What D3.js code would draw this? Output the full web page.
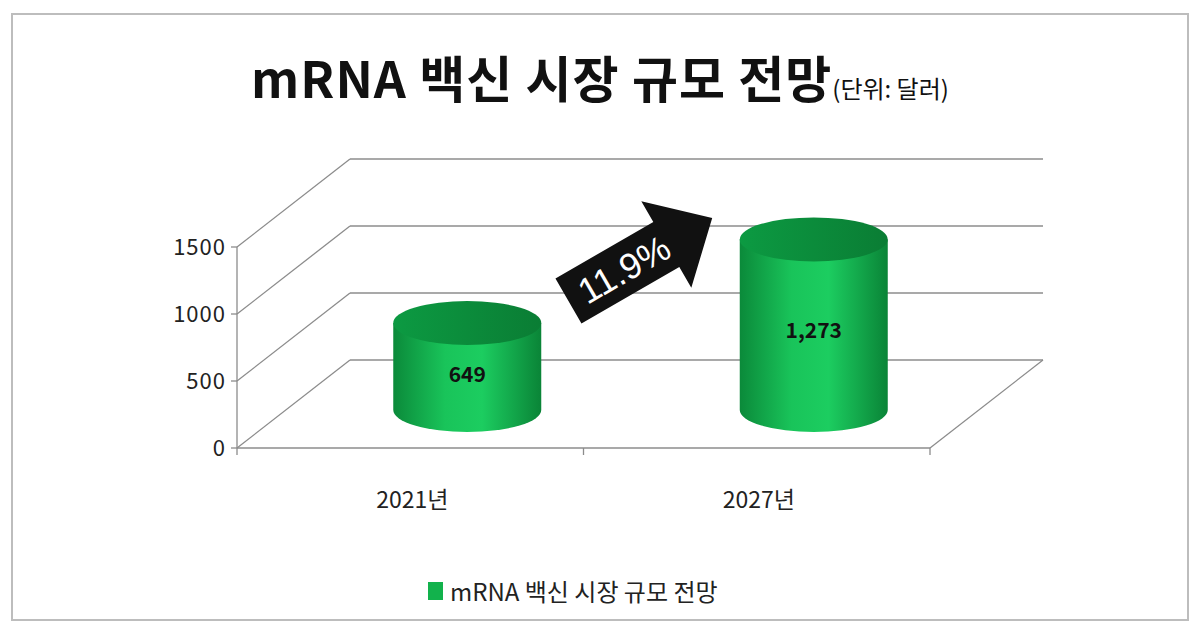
<!DOCTYPE html>
<html><head><meta charset="utf-8">
<script src="https://cdn.jsdelivr.net/npm/d3@7"></script>
<style>body{margin:0;background:#fff}svg{display:block}</style>
</head><body>
<script>
const categories = ["2021년", "2027년"];
const values = [649, 1273];
const valueLabels = ["649", "1,273"];
const yTicks = [0, 500, 1000, 1500];
const growthLabel = "11.9%";
const seriesName = "mRNA 백신 시장 규모 전망";

const W = 1200, H = 630;
const svg = d3.select("body").append("svg").attr("width", W).attr("height", H);
const font = "'Noto Sans CJK KR','Noto Sans',sans-serif";

svg.append("rect").attr("x", 12).attr("y", 14).attr("width", 1176).attr("height", 606)
  .attr("fill", "#fff").attr("stroke", "#bdbdbd").attr("stroke-width", 2);

const t = svg.append("text").attr("x", 600).attr("y", 98).attr("text-anchor", "middle")
  .attr("font-family", font).attr("fill", "#111");
t.append("tspan").attr("font-size", 50).attr("font-weight", 700).attr("letter-spacing", 1).text("mRNA 백신 시장 규모 전망");
t.append("tspan").attr("font-size", 24).text("(단위: 달러)");

const x0 = 237, x1 = 930, dx = 113, dy = -88;
const y = d3.scaleLinear().domain([0, 1500]).range([448, 247]);
const xb = d3.scaleBand().domain(categories).range([x0, x1]);

const grid = svg.append("g").attr("stroke", "#8c8c8c").attr("stroke-width", 1.3).attr("fill", "none");
yTicks.forEach(v => {
  const yy = y(v) + dy;
  grid.append("line").attr("x1", x0 + dx).attr("x2", x1 + dx).attr("y1", yy).attr("y2", yy);
  grid.append("line").attr("x1", x0).attr("y1", y(v)).attr("x2", x0 + dx).attr("y2", yy);
});
grid.append("line").attr("x1", x1).attr("y1", y(0)).attr("x2", x1 + dx).attr("y2", y(0) + dy);
grid.append("line").attr("x1", x0).attr("y1", y(0)).attr("x2", x1).attr("y2", y(0));
grid.append("line").attr("x1", x0).attr("y1", y(0)).attr("x2", x0).attr("y2", y(1500));
[x0, (x0 + x1) / 2, x1].forEach(xx => grid.append("line").attr("x1", xx).attr("x2", xx).attr("y1", y(0)).attr("y2", y(0) + 7));
yTicks.forEach(v => grid.append("line").attr("x1", x0 - 6).attr("x2", x0).attr("y1", y(v)).attr("y2", y(v)));

svg.append("g").selectAll("text").data(yTicks).join("text")
  .attr("x", 226).attr("y", d => y(d) + 8).attr("text-anchor", "end")
  .attr("font-family", font).attr("font-size", 22).attr("fill", "#222").attr("letter-spacing", 1).text(d => d);

svg.append("g").selectAll("text").data(categories).join("text")
  .attr("x", d => xb(d) + xb.bandwidth() / 2 + 2).attr("y", 508).attr("text-anchor", "middle")
  .attr("font-family", font).attr("font-size", 23).attr("fill", "#222").text(d => d);

const defs = svg.append("defs");
const g1 = defs.append("linearGradient").attr("id", "cyl").attr("x1", 0).attr("x2", 1);
[[0, "#0b8a3a"], [0.35, "#19c45a"], [0.6, "#1ccd60"], [1, "#0a8437"]].forEach(([o, c]) => g1.append("stop").attr("offset", o).attr("stop-color", c));
const g2 = defs.append("linearGradient").attr("id", "top").attr("x1", 0).attr("x2", 1);
[[0, "#0c9a42"], [1, "#0a7d34"]].forEach(([o, c]) => g2.append("stop").attr("offset", o).attr("stop-color", c));

const base = 410, rx = 74, ry = 22;
const hScale = v => y(0) - y(v);
const bars = svg.append("g").selectAll("g").data(values).join("g");
bars.each(function (v, i) {
  const cx = xb(categories[i]) + xb.bandwidth() / 2 + 57;
  const top = base - hScale(v);
  const g = d3.select(this);
  g.append("path").attr("fill", "url(#cyl)")
    .attr("d", `M${cx - rx},${top} L${cx - rx},${base} A${rx},${ry} 0 0 0 ${cx + rx},${base} L${cx + rx},${top} Z`);
  g.append("ellipse").attr("cx", cx).attr("cy", top).attr("rx", rx).attr("ry", ry).attr("fill", "url(#top)");
  g.append("text").attr("x", cx).attr("y", (top + base) / 2 + 15 + (i ? -2 : 0)).attr("text-anchor", "middle")
    .attr("font-family", font).attr("font-size", 21).attr("font-weight", 700).attr("fill", "#111").text(valueLabels[i]);
});

const arr = svg.append("g").attr("transform", "translate(636,262) rotate(-30)");
arr.append("path").attr("fill", "#111")
  .attr("d", "M-78,-26 L35,-26 L35,-50 L88,0 L35,50 L35,26 L-78,26 Z");
arr.append("text").attr("x", -14).attr("y", 13).attr("text-anchor", "middle")
  .attr("font-family", "'Liberation Sans',sans-serif").attr("font-size", 36).attr("fill", "#fff").text(growthLabel);

svg.append("rect").attr("x", 428).attr("y", 582).attr("width", 15).attr("height", 18).attr("fill", "#12b24c");
svg.append("text").attr("x", 450).attr("y", 601).attr("font-family", font).attr("font-size", 24).attr("fill", "#222").text(seriesName);
</script>
</body></html>
